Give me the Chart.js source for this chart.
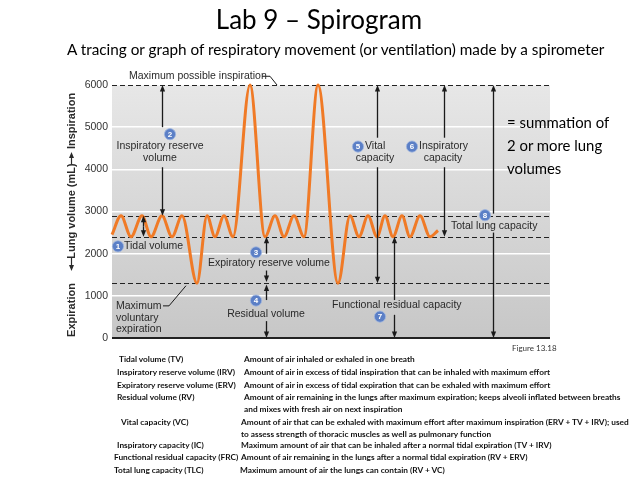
<!DOCTYPE html>
<html>
<head>
<meta charset="utf-8">
<title>Lab 9 – Spirogram</title>
<script src="https://cdn.jsdelivr.net/npm/chart.js@4.4.0/dist/chart.umd.min.js"></script>
<style>
    body { margin: 0; width: 638px; height: 478px; position: relative; overflow: hidden; background: #fff; font-family: Lato, "Open Sans", sans-serif; color: #000; }
    #wrap { position: absolute; left: 0; top: 0; width: 638px; height: 478px; }
    .t { position: absolute; white-space: nowrap; }
    #title { left: 0; width: 638px; top: 3px; text-align: center; font-size: 26px; }
    #subtitle { left: 67px; top: 40px; font-size: 15.3px; }
    #summ { left: 507px; top: 111px; font-size: 14.9px; line-height: 23px; }
    #fig { left: 512px; top: 343px; font-size: 8px; color: #333; }
    .row { position: absolute; font-size: 8.3px; font-weight: bold; white-space: nowrap; line-height: 11.5px; color: #111; }
</style>
</head>
<body>
<div id="wrap"><canvas id="spiro" width="638" height="478"></canvas></div>
<div class="t" id="title">Lab 9 – Spirogram</div>
<div class="t" id="subtitle">A tracing or graph of respiratory movement (or ventilation) made by a spirometer</div>
<div class="t" id="summ">= summation of<br>2 or more lung<br>volumes</div>
<div class="t" id="fig">Figure 13.18</div>
<div id="defs"></div>
<script>
"use strict";

/**
 * Datos del espirograma (tiempo en unidades arbitrarias, volumen en mL)
 */
const timePoints = [0, 9, 19, 30, 39, 50, 60, 70, 85, 95, 103, 112, 121, 138, 153, 163, 172, 182, 192, 206, 226, 238, 247, 256, 265, 273, 281, 290, 298, 308, 318, 326];
const lungVolume = [2450, 2900, 2400, 2900, 2400, 2900, 2400, 2900, 1300, 2900, 2400, 2900, 2400, 6000, 2400, 2900, 2400, 2900, 2400, 6000, 1300, 2900, 2400, 2900, 2400, 2900, 2400, 2900, 2400, 2900, 2400, 2550];
const yTicks = [0, 1000, 2000, 3000, 4000, 5000, 6000];
const refLevels = [6000, 2900, 2400, 1300];

const defTerms = [
    "Tidal volume (TV)",
    "Inspiratory reserve volume (IRV)",
    "Expiratory reserve volume (ERV)",
    "Residual volume (RV)",
    "Vital capacity (VC)",
    "Inspiratory capacity (IC)",
    "Functional residual capacity (FRC)",
    "Total lung capacity (TLC)",
];
const defTexts = [
    "Amount of air inhaled or exhaled in one breath",
    "Amount of air in excess of tidal inspiration that can be inhaled with maximum effort",
    "Amount of air in excess of tidal expiration that can be exhaled with maximum effort",
    "Amount of air remaining in the lungs after maximum expiration; keeps alveoli inflated between breaths<br>and mixes with fresh air on next inspiration",
    "Amount of air that can be exhaled with maximum effort after maximum inspiration (ERV + TV + IRV); used<br>to assess strength of thoracic muscles as well as pulmonary function",
    "Maximum amount of air that can be inhaled after a normal tidal expiration (TV + IRV)",
    "Amount of air remaining in the lungs after a normal tidal expiration (RV + ERV)",
    "Maximum amount of air the lungs can contain (RV + VC)",
];

/**
 * Tabla de definiciones
 */
const defs = document.querySelector("#defs");
const rowTop = [354, 367, 380, 392, 417, 440, 452, 465];
const termLeft = [119, 117, 117, 117, 121, 117, 114, 114];
const textLeft = [244, 244, 244, 244, 241, 241, 241, 240];
defTerms.forEach((term, i) => {
    const a = document.createElement("div");
    a.className = "row";
    a.style.left = termLeft[i] + "px";
    a.style.top = rowTop[i] + "px";
    a.textContent = term;
    defs.appendChild(a);
    const b = document.createElement("div");
    b.className = "row";
    b.style.left = textLeft[i] + "px";
    b.style.top = rowTop[i] + "px";
    b.innerHTML = defTexts[i];
    defs.appendChild(b);
});

/**
 * Anotaciones (coordenadas en unidades de datos)
 */
const arrowSegs = [
    [50, 6000, 5000], [50, 2900, 4050],
    [31, 2900, 2650], [31, 2400, 2650],
    [154, 2400, 2000], [154, 1330, 1600],
    [154, 1270, 900], [154, 0, 400],
    [265, 6000, 4750], [265, 1300, 4050],
    [332, 6000, 4750], [332, 2400, 4050],
    [381, 6000, 2950], [381, 0, 2500],
    [282, 2400, 900], [282, 0, 550],
];
const labels = [
    ["Maximum possible inspiration", 17, 6207, "left"],
    ["Inspiratory reserve", 48, 4540, "center"],
    ["volume", 48, 4262, "center"],
    ["Tidal volume", 12, 2174, "left"],
    ["Expiratory reserve volume", 96, 1779, "left"],
    ["Residual volume", 154, 564, "center"],
    ["Maximum", 4, 762, "left"],
    ["voluntary", 4, 469, "left"],
    ["expiration", 4, 207, "left"],
    ["Vital", 253, 4540, "left"],
    ["capacity", 263, 4262, "center"],
    ["Inspiratory", 307, 4540, "left"],
    ["capacity", 331, 4262, "center"],
    ["Total lung capacity", 339, 2650, "left"],
    ["Functional residual capacity", 220, 786, "left"],
];
const badges = [
    ["1", 6, 2174], ["2", 58, 4833], ["3", 144, 2031], ["4", 144, 888],
    ["5", 246, 4540], ["6", 300, 4540], ["7", 268, 507], ["8", 373, 2912],
];
const leaders = [
    [[150, 6207], [158, 6207], [165, 6000]],
    [[51, 762], [57, 762], [74, 1240]],
];

const spiroDecor = {
    id: "spiroDecor",
    beforeDraw(chart) {
        const { ctx, chartArea: a } = chart;
        const g = ctx.createLinearGradient(0, a.top, 0, a.bottom);
        g.addColorStop(0, "#e7e7e7");
        g.addColorStop(1, "#c7c7c7");
        ctx.save();
        ctx.fillStyle = g;
        ctx.fillRect(a.left, a.top, a.right - a.left, a.bottom - a.top);
        ctx.restore();
    },
    beforeDatasetsDraw(chart) {
        const { ctx, chartArea: a, scales } = chart;
        ctx.save();
        ctx.strokeStyle = "#222";
        ctx.lineWidth = 1.2;
        ctx.setLineDash([5, 3]);
        refLevels.forEach((v) => {
            const y = Math.round(scales.y.getPixelForValue(v)) + 0.5;
            ctx.beginPath();
            ctx.moveTo(a.left, y);
            ctx.lineTo(a.right, y);
            ctx.stroke();
        });
        ctx.restore();
    },
    afterDraw(chart) {
        const { ctx, scales } = chart;
        const px = (v) => scales.x.getPixelForValue(v);
        const py = (v) => scales.y.getPixelForValue(v);

        ctx.save();
        ctx.strokeStyle = "#1a1a1a";
        ctx.fillStyle = "#1a1a1a";
        ctx.lineWidth = 1.3;

        /**
         * Flechas verticales
         */
        arrowSegs.forEach(([x, tip, tail]) => {
            const X = Math.round(px(x)) + 0.5;
            const yt = py(tip);
            const yb = py(tail);
            const dir = yt < yb ? -1 : 1;
            ctx.beginPath();
            ctx.moveTo(X, yb);
            ctx.lineTo(X, yt - dir * 5);
            ctx.stroke();
            ctx.beginPath();
            ctx.moveTo(X, yt);
            ctx.lineTo(X - 2.6, yt - dir * 6.5);
            ctx.lineTo(X + 2.6, yt - dir * 6.5);
            ctx.closePath();
            ctx.fill();
        });

        /**
         * Lineas guia
         */
        ctx.lineWidth = 1;
        leaders.forEach((pts) => {
            ctx.beginPath();
            pts.forEach(([x, v], i) => {
                if (i === 0) ctx.moveTo(px(x), py(v));
                else ctx.lineTo(px(x), py(v));
            });
            ctx.stroke();
        });

        /**
         * Textos de la figura
         */
        ctx.fillStyle = "#2a2a2a";
        ctx.font = '10.5px "Liberation Sans", Arial, sans-serif';
        ctx.textBaseline = "middle";
        labels.forEach(([text, x, v, align]) => {
            ctx.textAlign = align;
            ctx.fillText(text, px(x), py(v));
        });

        /**
         * Circulos numerados
         */
        badges.forEach(([n, x, v]) => {
            const X = px(x);
            const Y = py(v);
            ctx.beginPath();
            ctx.arc(X, Y, 5.6, 0, Math.PI * 2);
            ctx.fillStyle = "#5b7fc6";
            ctx.fill();
            ctx.lineWidth = 0.8;
            ctx.strokeStyle = "#9fb6e0";
            ctx.stroke();
            ctx.fillStyle = "#fff";
            ctx.font = 'bold 8px "Liberation Sans", Arial, sans-serif';
            ctx.textAlign = "center";
            ctx.fillText(n, X, Y + 0.5);
        });

        /**
         * Titulo del eje Y
         */
        const tx = 72;
        ctx.fillStyle = "#2a2a2a";
        ctx.font = 'bold 11px "Liberation Sans", Arial, sans-serif';
        ctx.textAlign = "center";
        [["Inspiration", 121], ["Lung volume (mL)", 211], ["Expiration", 310]].forEach(([text, y]) => {
            ctx.save();
            ctx.translate(tx, y);
            ctx.rotate(-Math.PI / 2);
            ctx.fillText(text, 0, 0);
            ctx.restore();
        });
        ctx.strokeStyle = "#2a2a2a";
        ctx.fillStyle = "#2a2a2a";
        ctx.lineWidth = 1.2;
        const X = tx - 0.5;
        ctx.beginPath();
        ctx.moveTo(X, 164);
        ctx.lineTo(X, 157);
        ctx.moveTo(X, 258);
        ctx.lineTo(X, 266);
        ctx.stroke();
        ctx.beginPath();
        ctx.moveTo(X, 152);
        ctx.lineTo(X - 2.5, 158);
        ctx.lineTo(X + 2.5, 158);
        ctx.closePath();
        ctx.moveTo(X, 271);
        ctx.lineTo(X - 2.5, 265);
        ctx.lineTo(X + 2.5, 265);
        ctx.closePath();
        ctx.fill();

        ctx.restore();
    },
};

const points = timePoints.map((t, i) => ({ x: t, y: lungVolume[i] }));

new Chart(document.querySelector("#spiro"), {
    type: "line",
    data: {
        datasets: [
            {
                label: "Lung volume",
                data: points,
                borderColor: "#f07a26",
                borderWidth: 3,
                pointRadius: 0,
                cubicInterpolationMode: "monotone",
                clip: false,
            },
        ],
    },
    options: {
        responsive: false,
        animation: false,
        layout: {
            padding: { left: 60, right: 88, top: 85, bottom: 140 },
        },
        plugins: {
            legend: { display: false },
            tooltip: { enabled: false },
        },
        scales: {
            x: {
                type: "linear",
                min: 0,
                max: 438,
                display: false,
            },
            y: {
                min: 0,
                max: 6000,
                afterFit: (scale) => {
                    scale.width = 52;
                },
                afterBuildTicks: (scale) => {
                    scale.ticks = yTicks.map((v) => ({ value: v }));
                },
                border: { display: false },
                grid: {
                    drawTicks: false,
                    color: (c) => (c.tick && c.tick.value === 0 ? "#222" : "#ffffff"),
                    lineWidth: (c) => (c.tick && c.tick.value === 0 ? 2 : 1.6),
                },
                ticks: {
                    padding: 4,
                    color: "#333",
                    font: { family: "'Liberation Sans', Arial, sans-serif", size: 10.5 },
                    callback: (value) => String(value),
                },
            },
        },
    },
    plugins: [spiroDecor],
});
</script>
</body>
</html>
